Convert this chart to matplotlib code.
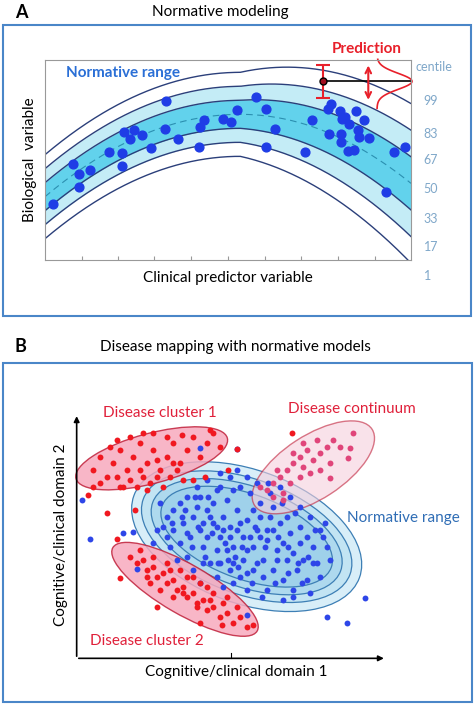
import numpy as np
import matplotlib
matplotlib.use("Agg")
import matplotlib.pyplot as plt
from matplotlib.patches import Ellipse, Rectangle

plt.rcParams['font.family'] = ['Lato', 'DejaVu Sans']

# ---- Panel A data (reference pixel units) ----
a_x = [160,218,236,237,271,327,365,367,373,390,402,425,453,495,498,533,598,600,611,668,692,711,766,798,798,823,
       913,935,982,993,986,1020,1022,1022,1025,1035,1045,1042,1062,1068,1072,1075,1090,1105,1156,1181,1213]
a_y = [613,492,521,561,509,456,460,498,395,417,391,405,444,387,302,416,441,382,361,358,365,330,291,327,441,386,
       455,361,328,312,403,333,403,425,357,351,371,452,451,332,391,411,359,413,575,457,441]
centile_labels = ['centile', '99', '83', '67', '50', '33', '17', '1']
centile_pos = [200, 302, 403, 481, 568, 658, 742, 828]

# ---- Panel B data ----
blue = [(480,520),(500,560),(520,600),(540,640),(560,680),(580,720),(600,760),(620,540),(640,580),(660,620),(680,660),
        (700,700),(720,740),(740,780),(560,500),(590,470),(620,450),(650,480),(680,510),(710,540),(740,570),(770,600),
        (800,630),(830,660),(860,690),(890,720),(920,750),(950,700),(980,650),(960,600),(930,560),(900,530),(870,500),
        (840,470),(810,490),(780,520),(750,490),(720,470),(690,440),(660,430),(600,600),(610,650),(630,700),(650,740),
        (670,770),(700,650),(730,620),(760,650),(790,690),(820,720),(850,750),(880,780),(900,640),(870,610),(840,580),
        (810,560),(770,460),(740,440),(580,560),(550,580),(510,650),(470,600),(460,640),(530,690),(690,590),(720,580),
        (750,620),(780,560),(820,600),(850,640),(880,670),(910,690),(940,650),(970,620),(990,690),(960,740),(930,790),
        (880,800),(850,810),(790,740),(760,720),(730,690),(690,620),(650,660),(620,620),(600,500),(640,520),(670,560),
        (710,600),(740,660),(770,700),(800,600),(660,700),(700,760),(520,540),(490,590),(570,620),(610,700),(1095,805),
        (980,862),(1040,878),(270,627),(245,510),(400,605),(370,610),(410,718),(740,855),(600,355),(710,420),(710,357),
        (590,530),(630,560),(670,600),(760,540),(820,530),(900,590),(940,700),(860,560),(800,780),(560,610),(650,590),
        (705,680),(780,620),(830,690),(920,620),(690,720),(740,730),(610,580),(540,520),(500,620),
        (575,650),(615,680),(655,700),(685,690),(725,650),(765,590),(795,650),(835,620),(865,650),(895,700),(925,680),
        (555,540),(595,590),(635,610),(675,640),(715,710),(755,760),(785,800),(825,760),(865,730),(905,760),(945,600),
        (975,580),(885,550),(845,520),(805,460),(700,480),(660,470),(625,500),(585,500),(545,560),(515,580)]
clus1 = [(280,420),(300,380),(320,440),(340,400),(360,360),(380,420),(400,380),(420,340),(440,400),(460,360),(480,420),
         (500,380),(520,340),(540,400),(560,360),(580,320),(600,380),(620,340),(640,310),(660,350),(370,470),(390,450),
         (410,470),(430,440),(450,460),(470,440),(490,470),(510,440),(530,420),(550,450),(330,350),(350,330),(390,320),
         (430,310),(460,310),(500,320),(545,315),(630,300),(280,470),(265,495),(320,548),(350,628),(405,540),(360,470),
         (440,480),(580,450),(615,440),(685,420),(710,358),(875,310),(300,460),(420,420),(470,390),(520,400),(350,440)]
clus2 = [(390,680),(410,700),(430,690),(440,720),(460,710),(470,740),(490,730),(500,760),(520,750),(530,780),(550,770),
         (560,800),(580,790),(590,820),(610,810),(620,840),(640,830),(660,860),(680,850),(700,880),(720,860),(740,890),
         (760,885),(450,760),(480,780),(520,800),(560,740),(600,760),(640,790),(670,820),(420,660),(460,680),(500,700),
         (540,720),(580,740),(620,770),(360,745),(470,832),(600,880),(665,885),(590,830),(680,800),(710,830),(440,740),
         (510,720),(550,790),(630,810)]
cont = [(800,480),(820,460),(840,440),(860,420),(880,400),(900,380),(920,360),(940,390),(960,370),(980,350),(1000,330),
        (1020,350),(1050,355),(990,400),(960,420),(930,430),(900,440),(870,460),(850,490),(820,500),(880,370),(910,340),
        (950,330),(1060,310),(990,445),(1045,385),(830,420),(780,470),(850,510),(910,410)]

fig = plt.figure(figsize=(4.74, 7.04), dpi=100)
bg = fig.add_axes([0, 0, 1, 1])
bg.set_xlim(0, 474); bg.set_ylim(704, 0); bg.axis('off')
bg.add_patch(Rectangle((3, 25), 468, 291, fill=False, ec='#4a86c8', lw=1.5))
bg.text(15, 12, 'A', fontsize=13, fontweight='bold', va='center')
bg.text(220, 12, 'Normative modeling', fontsize=11, ha='center', va='center')

# ---- Panel A ----
ax = fig.add_axes([45/474, (704-260)/704, 366/474, 200/704])
ax.set_xlim(135, 1232); ax.set_ylim(780, 180)
xs = np.linspace(135, 1232, 400)
a_l, a_r = 0.000722, 0.00079
aa = np.where(xs < 720, a_l, a_r)
med = 343 + aa*(xs-720)**2
scale = 1 + np.clip((xs-720)/512, 0, None)*0.9
d = 42
def band(k):
    return med + k*d*scale
ax.fill_between(xs, band(-2), band(2), color='#c4ecf6', lw=0)
ax.fill_between(xs, band(-1), band(1), color='#62d2ec', lw=0)
for k in [-3, -2, -1, 1, 2, 3]:
    ax.plot(xs, band(k), color='#2b3f7a', lw=1)
ax.plot(xs, med, color='#2b8fb0', lw=0.8, ls=(0, (6, 4)))
ax.scatter(a_x, a_y, s=40, color='#1f3de6', zorder=3)
for sp in ax.spines.values():
    sp.set_color('#999999'); sp.set_linewidth(0.8)
ax.set_xticks([245,355,463,573,683,793,903,1013,1123])
ax.set_yticks([])
ax.tick_params(axis='x', direction='in', length=3, labelbottom=False, color='#999999')
ax.set_xlabel('Clinical predictor variable', fontsize=11, labelpad=8)
ax.set_ylabel('Biological  variable', fontsize=11, labelpad=6)
for lab, y in zip(centile_labels, centile_pos):
    ax.text(1270 if lab != 'centile' else 1245, y, lab, color='#7fa7c9', fontsize=9, va='center',
            ha='left', clip_on=False)
ax.text(370, 218, 'Normative range', color='#2a6fd6', fontsize=11, fontweight='bold', ha='center', va='center')
ax.text(1100, 148, 'Prediction', color='#e8202a', fontsize=11, fontweight='bold', ha='center', va='center',
        clip_on=False)
ax.plot([967, 1232], [244, 244], color='black', lw=1.2, clip_on=False)
ax.errorbar([967], [244], yerr=[[49], [49]], color='#e8202a', capsize=5, lw=1.5, capthick=1.5)
ax.scatter([967], [244], s=25, color='#a01020', edgecolor='black', zorder=5)
ax.annotate('', xy=(1104, 188), xytext=(1104, 308),
            arrowprops=dict(arrowstyle='<->', color='#e8202a', lw=1.5), annotation_clip=False)
gy = np.linspace(178, 325, 100)
gx = 1130 + 105*np.exp(-(gy-244)**2/(2*24**2))
ax.plot(gx, gy, color='#e8202a', lw=1.2, clip_on=False)

# ---- Panel B ----
bx = fig.add_axes([0, 0, 1, 374/704])
bx.set_xlim(0, 1422); bx.set_ylim(1122, 0); bx.axis('off')
bx.add_patch(Rectangle((8, 100), 1407, 1015, fill=False, ec='#4a86c8', lw=1.5))
bx.text(45, 50, 'B', fontsize=13, fontweight='bold', va='center')
bx.text(705, 50, 'Disease mapping with normative models', fontsize=11, ha='center', va='center')

for w, h, fc, z in [(720, 400, '#d8eef8', 1), (660, 345, '#c2e4f3', 1.1), (600, 300, '#aed9ee', 1.2), (540, 255, '#9fd1ea', 1.3)]:
    bx.add_patch(Ellipse((740, 620), w, h, angle=20, fc=fc, ec='#3d7fb5', lw=0.9, zorder=z))
bx.add_patch(Ellipse((455, 385), 470, 150, angle=-15, fc='#f7a9bd', ec='#c0203a', lw=1, alpha=0.85, zorder=2))
bx.add_patch(Ellipse((555, 778), 500, 150, angle=30, fc='#f7a9bd', ec='#c0203a', lw=1, alpha=0.85, zorder=2))
bx.add_patch(Ellipse((940, 412), 420, 190, angle=-33, fc='#f6cfdc', ec='#c0203a', lw=1, alpha=0.6, zorder=2.5))

bx.scatter([p[0] for p in blue], [p[1] for p in blue], s=18, color='#2e46e8', zorder=3, lw=0)
bx.scatter([p[0] for p in clus1], [p[1] for p in clus1], s=18, color='#f01820', zorder=3, lw=0)
bx.scatter([p[0] for p in clus2], [p[1] for p in clus2], s=18, color='#f01820', zorder=3, lw=0)
bx.scatter([p[0] for p in cont], [p[1] for p in cont], s=18, color='#e0457a', zorder=3, lw=0)

bx.annotate('', xy=(1160, 985), xytext=(228, 985),
            arrowprops=dict(arrowstyle='-|>', color='black', lw=1.2, mutation_scale=8))
bx.annotate('', xy=(230, 250), xytext=(230, 987),
            arrowprops=dict(arrowstyle='-|>', color='black', lw=1.2, mutation_scale=8))
bx.plot([692, 692], [985, 968], color='black', lw=0.8)
bx.text(710, 1025, 'Cognitive/clinical domain 1', fontsize=11, ha='center', va='center')
bx.text(182, 615, 'Cognitive/clinical domain 2', fontsize=11, ha='center', va='center', rotation=90)
bx.text(480, 250, 'Disease cluster 1', color='#e0203a', fontsize=11, ha='center', va='center')
bx.text(1055, 237, 'Disease continuum', color='#e0203a', fontsize=11, ha='center', va='center')
bx.text(1210, 565, 'Normative range', color='#2f6db5', fontsize=11, ha='center', va='center', zorder=5)
bx.text(440, 933, 'Disease cluster 2', color='#e0203a', fontsize=11, ha='center', va='center')

fig.savefig('out.png', dpi=100)
